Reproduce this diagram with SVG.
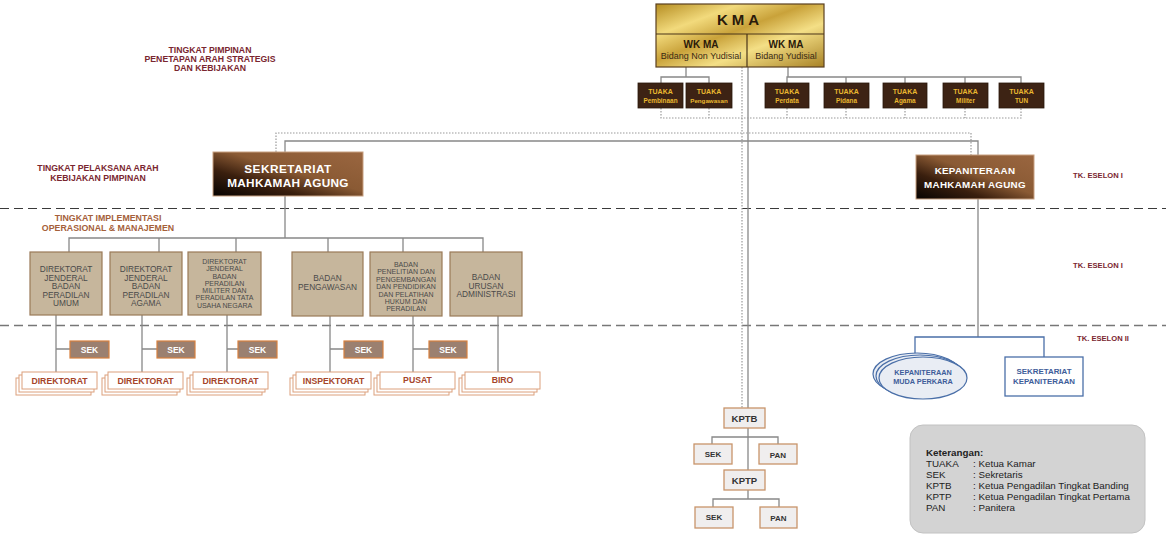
<svg xmlns="http://www.w3.org/2000/svg" width="1166" height="549" viewBox="0 0 1166 549">
<defs>
<linearGradient id="gold" x1="0" y1="0" x2="1" y2="1">
<stop offset="0" stop-color="#b58d22"/>
<stop offset="0.25" stop-color="#f2da7c"/>
<stop offset="0.45" stop-color="#c9a23a"/>
<stop offset="0.65" stop-color="#f4df86"/>
<stop offset="1" stop-color="#a88226"/>
</linearGradient>
<linearGradient id="brown" x1="0" y1="1" x2="1" y2="0">
<stop offset="0" stop-color="#060302"/>
<stop offset="0.3" stop-color="#3a1f0e"/>
<stop offset="0.55" stop-color="#8a5a34"/>
<stop offset="1" stop-color="#9a6640"/>
</linearGradient>
<style>
.t{font-family:"Liberation Sans",Arial,sans-serif}
.lvl{font-family:"Liberation Sans",Arial,sans-serif;font-weight:bold;font-size:8.7px;fill:#7a2630;text-anchor:middle}
.imp{font-family:"Liberation Sans",Arial,sans-serif;font-weight:bold;font-size:8.8px;fill:#a5603a;text-anchor:middle}
.esl{font-family:"Liberation Sans",Arial,sans-serif;font-weight:bold;font-size:7.6px;fill:#7a2630;text-anchor:middle}
.gold{fill:url(#gold);stroke:#5a4020;stroke-width:1.2}
.tuaka{fill:#3d2314;stroke:#2a170c;stroke-width:0.8}
.tt{font-family:"Liberation Sans",Arial,sans-serif;font-weight:bold;fill:#eab830;text-anchor:middle}
.big{fill:url(#brown);stroke:#c8a080;stroke-width:1}
.bigt{font-family:"Liberation Sans",Arial,sans-serif;font-weight:bold;fill:#fff;text-anchor:middle}
.l3{fill:#c6b69c;stroke:#9a7a58;stroke-width:1.2}
.l3t{font-family:"Liberation Sans",Arial,sans-serif;fill:#4a4a4a;text-anchor:middle}
.sek{fill:#9b8070;stroke:#d8803e;stroke-width:1.2}
.sekt{font-family:"Liberation Sans",Arial,sans-serif;font-weight:bold;font-size:8.5px;fill:#fff;text-anchor:middle}
.st{fill:#fff;stroke:#dca07c;stroke-width:1}
.stt{font-family:"Liberation Sans",Arial,sans-serif;font-weight:bold;font-size:8.7px;fill:#a5442a;text-anchor:middle}
.kp{fill:#f0eeee;stroke:#c8946a;stroke-width:1.3}
.kpt{font-family:"Liberation Sans",Arial,sans-serif;font-weight:bold;fill:#333;text-anchor:middle}
.blue{fill:#fff;stroke:#4a6fa8;stroke-width:1.3}
.ell{fill:#e9edf4;stroke:#4a6fa8;stroke-width:1.2}
.bt{font-family:"Liberation Sans",Arial,sans-serif;font-weight:bold;fill:#3e5d9a;text-anchor:middle}
.ln{fill:none;stroke:#888;stroke-width:1.3}
.dot{fill:none;stroke:#9a9a9a;stroke-width:1.2;stroke-dasharray:1.5 1.5}
.bl{fill:none;stroke:#4a6fa8;stroke-width:1.3}
.lg{font-family:"Liberation Sans",Arial,sans-serif;font-size:9.8px;fill:#222}
</style>
</defs>
<rect width="1166" height="549" fill="#fff"/>

<!-- level dashed lines -->
<g id="levels">
<line x1="0" y1="208.5" x2="1166" y2="208.5" stroke="#3a3a3a" stroke-width="1.2" stroke-dasharray="9 5"/>
<line x1="0" y1="325.5" x2="1166" y2="325.5" stroke="#777" stroke-width="1.5" stroke-dasharray="9 5"/>
<text class="lvl" x="210" y="53">TINGKAT PIMPINAN</text>
<text class="lvl" x="210" y="62">PENETAPAN ARAH STRATEGIS</text>
<text class="lvl" x="210" y="71">DAN KEBIJAKAN</text>
<text class="lvl" x="98" y="171">TINGKAT PELAKSANA ARAH</text>
<text class="lvl" x="98" y="180.5">KEBIJAKAN PIMPINAN</text>
<text class="imp" x="108" y="221">TINGKAT IMPLEMENTASI</text>
<text class="imp" x="108" y="230.5">OPERASIONAL &amp; MANAJEMEN</text>
<text class="esl" x="1098" y="178">TK. ESELON  I</text>
<text class="esl" x="1098" y="268">TK. ESELON  I</text>
<text class="esl" x="1103" y="341">TK. ESELON  II</text>
</g>

<!-- connectors -->
<g id="connectors">
<path class="dot" d="M742 67V408"/>
<path class="ln" d="M748 67V408"/>
<path class="ln" d="M686 67V77M661 83V77H709V83"/>
<path class="ln" d="M788 67V77M787 83V77H1021V83M846 77V83M905 77V83M965 77V83"/>
<path class="dot" d="M661 108V118H1021V108M709 108V118M787 108V118M846 108V118M905 108V118M965 108V118"/>
<path class="dot" d="M276 152V133H971V155"/>
<path class="ln" d="M285 152V141H978V155"/>
<path class="ln" d="M285 196V238M69 252V238H483V252M159 238V252M236 238V252M328 238V252M403 238V252"/>
<path class="ln" d="M56 315V372M56 349H70M142 315V372M142 349H157M227 315V372M227 349H238M330 315V372M330 349H344M413 315V372M413 349H429M498 315V372"/>
<path class="ln" d="M978 199V337"/>
<path class="bl" d="M915 355V337H1044V357"/>
<path class="ln" d="M748 428V470M748 490V499M712 444V437H778V444M713 507V499H779V507"/>
</g>

<!-- top -->
<g id="kma">
<rect class="gold" x="656" y="4" width="168" height="63"/>
<line x1="656" y1="34" x2="824" y2="34" stroke="#4a3418" stroke-width="1.2"/>
<line x1="747" y1="34" x2="747" y2="67" stroke="#4a3418" stroke-width="1.2"/>
<text class="t" x="740" y="25" font-size="15" font-weight="bold" fill="#2a1a0a" text-anchor="middle" letter-spacing="4">KMA</text>
<text class="t" x="701" y="48" font-size="10" font-weight="bold" fill="#2a1a0a" text-anchor="middle">WK MA</text>
<text class="t" x="701" y="59" font-size="9" fill="#3a2a14" text-anchor="middle">Bidang Non Yudisial</text>
<text class="t" x="786" y="48" font-size="10" font-weight="bold" fill="#2a1a0a" text-anchor="middle">WK MA</text>
<text class="t" x="786" y="59" font-size="9" fill="#3a2a14" text-anchor="middle">Bidang Yudisial</text>
</g>
<g id="tuaka-pembinaan"><rect class="tuaka" x="638" y="83" width="45" height="25"/><text class="tt" x="660.5" y="94" font-size="7">TUAKA</text><text class="tt" x="660.5" y="102.5" font-size="6.4">Pembinaan</text></g>
<g id="tuaka-pengawasan"><rect class="tuaka" x="686" y="83" width="46" height="25"/><text class="tt" x="709" y="94" font-size="7">TUAKA</text><text class="tt" x="709" y="102.5" font-size="6.2">Pengawasan</text></g>
<g id="tuaka-perdata"><rect class="tuaka" x="765" y="83" width="44" height="25"/><text class="tt" x="787" y="94" font-size="7">TUAKA</text><text class="tt" x="787" y="102.5" font-size="6.4">Perdata</text></g>
<g id="tuaka-pidana"><rect class="tuaka" x="824" y="83" width="45" height="25"/><text class="tt" x="846.5" y="94" font-size="7">TUAKA</text><text class="tt" x="846.5" y="102.5" font-size="6.4">Pidana</text></g>
<g id="tuaka-agama"><rect class="tuaka" x="883" y="83" width="44" height="25"/><text class="tt" x="905" y="94" font-size="7">TUAKA</text><text class="tt" x="905" y="102.5" font-size="6.4">Agama</text></g>
<g id="tuaka-militer"><rect class="tuaka" x="943" y="83" width="45" height="25"/><text class="tt" x="965.5" y="94" font-size="7">TUAKA</text><text class="tt" x="965.5" y="102.5" font-size="6.4">Militer</text></g>
<g id="tuaka-tun"><rect class="tuaka" x="999" y="83" width="45" height="25"/><text class="tt" x="1021.5" y="94" font-size="7">TUAKA</text><text class="tt" x="1021.5" y="102.5" font-size="6.4">TUN</text></g>

<g id="sekretariat-ma"><rect class="big" x="213" y="152" width="150" height="44"/><text class="bigt" x="288" y="172.5" font-size="11.8" letter-spacing="0.5">SEKRETARIAT</text><text class="bigt" x="288" y="186.5" font-size="11.8" letter-spacing="0.3">MAHKAMAH AGUNG</text></g>
<g id="kepaniteraan-ma"><rect class="big" x="916" y="155" width="118" height="44"/><text class="bigt" x="975" y="174" font-size="9.8" letter-spacing="0.3">KEPANITERAAN</text><text class="bigt" x="975" y="188" font-size="9.8" letter-spacing="0.3">MAHKAMAH AGUNG</text></g>

<!-- level 3 -->
<g id="dj-umum"><rect class="l3" x="30" y="252" width="72" height="63"/>
<text class="l3t" font-size="8.3"><tspan x="66" y="272">DIREKTORAT</tspan><tspan x="66" y="280.5">JENDERAL</tspan><tspan x="66" y="289">BADAN</tspan><tspan x="66" y="297.5">PERADILAN</tspan><tspan x="66" y="306">UMUM</tspan></text></g>
<g id="dj-agama"><rect class="l3" x="110" y="252" width="72" height="63"/>
<text class="l3t" font-size="8.3"><tspan x="146" y="272">DIREKTORAT</tspan><tspan x="146" y="280.5">JENDERAL</tspan><tspan x="146" y="289">BADAN</tspan><tspan x="146" y="297.5">PERADILAN</tspan><tspan x="146" y="306">AGAMA</tspan></text></g>
<g id="dj-militer"><rect class="l3" x="188" y="252" width="73" height="63"/>
<text class="l3t" font-size="7"><tspan x="224.5" y="263.5">DIREKTORAT</tspan><tspan x="224.5" y="271">JENDERAL</tspan><tspan x="224.5" y="278.5">BADAN</tspan><tspan x="224.5" y="286">PERADILAN</tspan><tspan x="224.5" y="293">MILITER DAN</tspan><tspan x="224.5" y="300">PERADILAN TATA</tspan><tspan x="224.5" y="307.5">USAHA NEGARA</tspan></text></g>
<g id="badan-pengawasan"><rect class="l3" x="292" y="252" width="71" height="64"/>
<text class="l3t" font-size="8.3"><tspan x="327.5" y="280.5">BADAN</tspan><tspan x="327.5" y="289.5">PENGAWASAN</tspan></text></g>
<g id="badan-litbang"><rect class="l3" x="370" y="252" width="72" height="64"/>
<text class="l3t" font-size="7"><tspan x="406" y="266.5">BADAN</tspan><tspan x="406" y="274">PENELITIAN DAN</tspan><tspan x="406" y="281.5">PENGEMBANGAN</tspan><tspan x="406" y="289">DAN PENDIDIKAN</tspan><tspan x="406" y="296.5">DAN PELATIHAN</tspan><tspan x="406" y="303.5">HUKUM  DAN</tspan><tspan x="406" y="310.5">PERADILAN</tspan></text></g>
<g id="badan-urusan-administrasi"><rect class="l3" x="450" y="252" width="72" height="64"/>
<text class="l3t" font-size="8.3"><tspan x="486" y="280">BADAN</tspan><tspan x="486" y="288.5">URUSAN</tspan><tspan x="486" y="297">ADMINISTRASI</tspan></text></g>

<!-- SEK -->
<g id="sek-1"><rect class="sek" x="70" y="341" width="39" height="17"/><text class="sekt" x="89.5" y="352.5">SEK</text></g>
<g id="sek-2"><rect class="sek" x="157" y="341" width="38" height="17"/><text class="sekt" x="176" y="352.5">SEK</text></g>
<g id="sek-3"><rect class="sek" x="238" y="341" width="39" height="17"/><text class="sekt" x="257.5" y="352.5">SEK</text></g>
<g id="sek-4"><rect class="sek" x="344" y="341" width="39" height="17"/><text class="sekt" x="363.5" y="352.5">SEK</text></g>
<g id="sek-5"><rect class="sek" x="429" y="341" width="38" height="17"/><text class="sekt" x="448" y="352.5">SEK</text></g>

<!-- stacked -->
<g id="direktorat-1"><rect class="st" x="16" y="378" width="75" height="17"/><rect class="st" x="19" y="375" width="75" height="17"/><rect class="st" x="22" y="372" width="75" height="17"/><text class="stt" x="59.5" y="384">DIREKTORAT</text></g>
<g id="direktorat-2"><rect class="st" x="102" y="378" width="75" height="17"/><rect class="st" x="105" y="375" width="75" height="17"/><rect class="st" x="108" y="372" width="75" height="17"/><text class="stt" x="145.5" y="384">DIREKTORAT</text></g>
<g id="direktorat-3"><rect class="st" x="187" y="378" width="75" height="17"/><rect class="st" x="190" y="375" width="75" height="17"/><rect class="st" x="193" y="372" width="75" height="17"/><text class="stt" x="230.5" y="384">DIREKTORAT</text></g>
<g id="inspektorat"><rect class="st" x="290" y="378" width="75" height="17"/><rect class="st" x="293" y="375" width="75" height="17"/><rect class="st" x="296" y="372" width="75" height="17"/><text class="stt" x="333.5" y="384">INSPEKTORAT</text></g>
<g id="pusat"><rect class="st" x="374" y="378" width="75" height="17"/><rect class="st" x="377" y="375" width="75" height="17"/><rect class="st" x="380" y="372" width="75" height="17"/><text class="stt" x="417.5" y="382.5">PUSAT</text></g>
<g id="biro"><rect class="st" x="459" y="378" width="75" height="17"/><rect class="st" x="462" y="375" width="75" height="17"/><rect class="st" x="465" y="372" width="75" height="17"/><text class="stt" x="502.5" y="382.5">BIRO</text></g>

<!-- kepaniteraan children -->
<g id="kepaniteraan-muda"><ellipse class="ell" cx="917" cy="374" rx="44" ry="21"/><ellipse class="ell" cx="920" cy="376" rx="44" ry="21"/><ellipse class="ell" cx="923" cy="378" rx="44" ry="21"/>
<text class="bt" font-size="7.3"><tspan x="923" y="375">KEPANITERAAN</tspan><tspan x="923" y="384">MUDA PERKARA</tspan></text></g>
<g id="sekretariat-kepaniteraan"><rect class="blue" x="1005" y="357" width="78" height="39"/>
<text class="bt" font-size="7.9"><tspan x="1044" y="374">SEKRETARIAT</tspan><tspan x="1044" y="384">KEPANITERAAN</tspan></text></g>

<!-- KPTB -->
<g id="kptb"><rect class="kp" x="724" y="408" width="41" height="20"/><text class="kpt" x="744.5" y="421.5" font-size="9.5">KPTB</text></g>
<g id="kptb-sek"><rect class="kp" x="694" y="444" width="38" height="20"/><text class="kpt" x="713" y="457" font-size="8">SEK</text></g>
<g id="kptb-pan"><rect class="kp" x="759" y="444" width="38" height="20"/><text class="kpt" x="778" y="457.5" font-size="8">PAN</text></g>
<g id="kptp"><rect class="kp" x="724" y="470" width="41" height="20"/><text class="kpt" x="744.5" y="483.5" font-size="9.5">KPTP</text></g>
<g id="kptp-sek"><rect class="kp" x="695" y="507" width="38" height="21"/><text class="kpt" x="714" y="520" font-size="8">SEK</text></g>
<g id="kptp-pan"><rect class="kp" x="760" y="507" width="37" height="21"/><text class="kpt" x="778.5" y="520.5" font-size="8">PAN</text></g>

<!-- legend -->
<g id="legend">
<rect x="910" y="425" width="235" height="108" rx="13" fill="#d3d3d3" stroke="#c2c2c2"/>
<text class="lg" x="926" y="456" font-weight="bold">Keterangan:</text>
<text class="lg" x="926" y="467">TUAKA</text><text class="lg" x="973" y="467">: Ketua Kamar</text>
<text class="lg" x="926" y="478">SEK</text><text class="lg" x="973" y="478">:  Sekretaris</text>
<text class="lg" x="926" y="489">KPTB</text><text class="lg" x="973" y="489">:  Ketua Pengadilan Tingkat Banding</text>
<text class="lg" x="926" y="500">KPTP</text><text class="lg" x="973" y="500">:  Ketua Pengadilan Tingkat Pertama</text>
<text class="lg" x="926" y="511">PAN</text><text class="lg" x="973" y="511">:  Panitera</text>
</g>
</svg>
